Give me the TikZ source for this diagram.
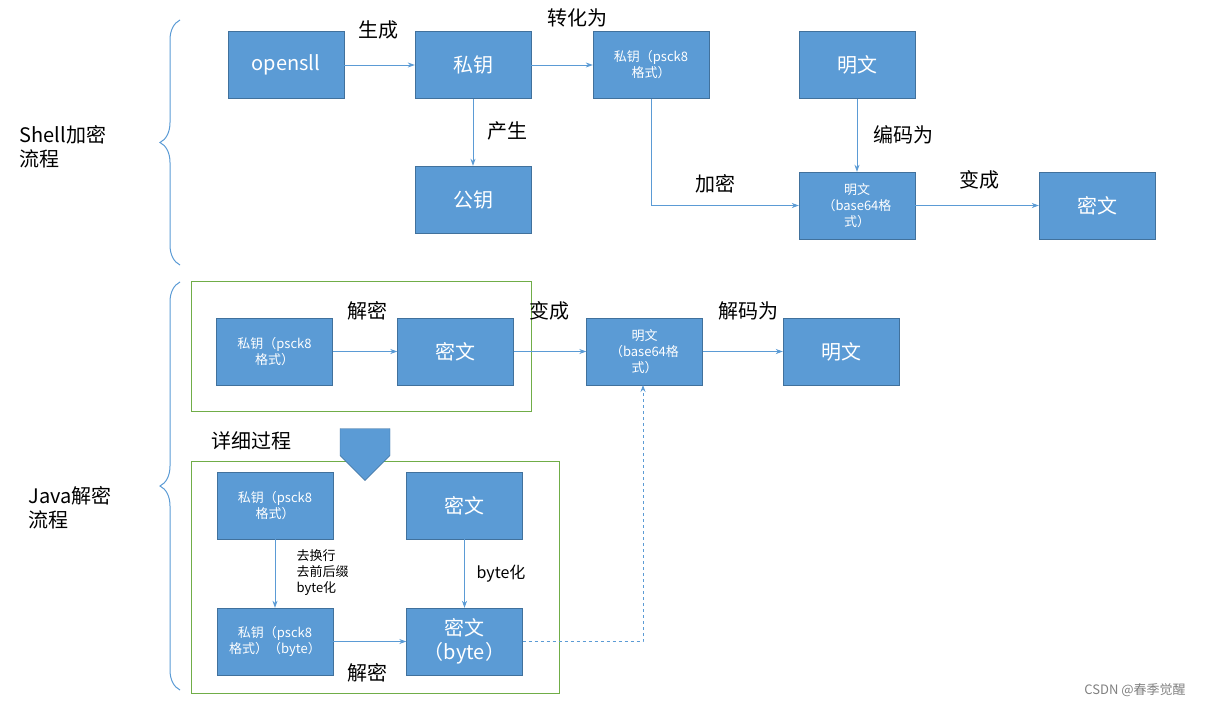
\documentclass[tikz,border=0pt]{standalone}
\usepackage{fontspec}
\setmainfont{Noto Sans CJK SC}
\usetikzlibrary{decorations.pathreplacing,shapes.arrows,arrows.meta}
\definecolor{bf}{HTML}{5B9BD5}
\definecolor{bd}{HTML}{41719C}
\definecolor{gr}{HTML}{70AD47}
\begin{document}
\begin{tikzpicture}[x=1pt,y=-1pt,
 box/.style={draw=bd,fill=bf,text=white,minimum width=116pt,minimum height=67pt,align=center,inner sep=1pt,font=\fontsize{20}{24}\selectfont},
 sbox/.style={box,font=\fontsize{13}{16}\selectfont},
 lab/.style={font=\fontsize{20}{24}\selectfont},
 ar/.style={draw=bf,-{Stealth[length=7pt,width=5pt]},line width=0.8pt},
 gbox/.style={draw=gr,line width=0.8pt},
 br/.style={draw=bf,line width=1pt,decorate,decoration={brace,amplitude=20pt}}]
\useasboundingbox (0,0) rectangle (1218,709);
% top
\node[box] (op) at (286,65) {opensll};
\node[box] (pk) at (473,65) {私钥};
\node[sbox] (p8) at (651,65) {私钥（psck8\\格式）};
\node[box] (mw) at (857,65) {明文};
\node[box] (gk) at (473,199.5) {公钥};
\node[sbox] (b64) at (857,205.5) {明文\\（base64格\\式）};
\node[box] (mi) at (1097,205.5) {密文};
\draw[ar] (op) -- (pk);
\draw[ar] (pk) -- (p8);
\draw[ar] (pk) -- (gk);
\draw[ar] (p8.south) |- (b64.west);
\draw[ar] (mw) -- (b64);
\draw[ar] (b64) -- (mi);
\node[lab] at (378,30) {生成};
\node[lab] at (577,18) {转化为};
\node[lab] at (507,131) {产生};
\node[lab] at (903,135) {编码为};
\node[lab] at (715,184) {加密};
\node[lab] at (979,180) {变成};
% java
\node[gbox,minimum width=340pt,minimum height=130pt] (g1) at (361,346) {};
\node[gbox,minimum width=368pt,minimum height=232pt] (g2) at (375,577) {};
\node[sbox] (jp8) at (274.5,351.5) {私钥（psck8\\格式）};
\node[box] (jmi) at (455.5,351.5) {密文};
\node[sbox] (jb) at (644.5,351.5) {明文\\（base64格\\式）};
\node[box] (jm) at (841,351.5) {明文};
\draw[ar] (jp8) -- (jmi);
\draw[ar] (jmi) -- (jb);
\draw[ar] (jb) -- (jm);
\node[lab] at (367,311) {解密};
\node[lab] at (549,311) {变成};
\node[lab] at (748,311) {解码为};
\node[single arrow,shape border rotate=270,fill=bf,draw=bd,minimum width=50pt,single arrow head extend=0pt,minimum height=52pt,inner sep=0pt] (da) at (365,442) {};
\node[lab] at (251,441) {详细过程};
\node[sbox] (k1) at (275,505.5) {私钥（psck8\\格式）};
\node[box] (m1) at (464.5,505.5) {密文};
\node[sbox] (k2) at (275,641.5) {私钥（psck8\\格式）（byte）};
\node[box] (m2) at (464.5,641.5) {密文\\（byte）};
\draw[ar] (k1) -- (k2);
\draw[ar] (m1) -- (m2);
\draw[ar] (k2) -- (m2);
\draw[ar,dashed] (m2.east) -| (643,385);
\node[font=\fontsize{13}{16}\selectfont,align=left,anchor=west] at (293,573) {去换行\\去前后缀\\byte化};
\node[font=\fontsize{16}{20}\selectfont] at (501,574) {byte化};
\node[lab] at (367,673) {解密};
% braces
\draw[br] (180,265) -- (180,20);
\draw[br] (180,690) -- (180,282);
\node[lab,align=left,anchor=west] at (16,147) {Shell加密\\流程};
\node[lab,align=left,anchor=west] at (25,508) {Java解密\\流程};
\node[text=gray,font=\fontsize{13}{16}\selectfont] at (1135,690) {CSDN @春季觉醒};
\end{tikzpicture}
\end{document}
